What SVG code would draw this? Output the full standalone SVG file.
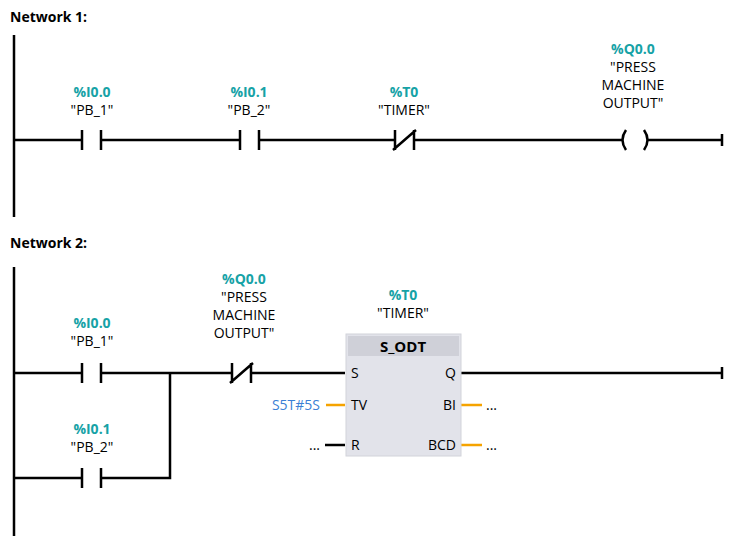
<svg xmlns="http://www.w3.org/2000/svg" width="733" height="536" viewBox="0 0 733 536">
<style>
text{font-family:"Open Sans","Noto Sans",sans-serif;font-size:14px;fill:#000}
.t{text-anchor:middle}
.a{fill:#16a2a6;font-weight:bold;text-anchor:middle}
.h{font-weight:bold}
.w{stroke:#000;stroke-width:2.5;fill:none}
.o{stroke:#f5a300;stroke-width:2.5}
.p{font-weight:bold;font-size:15px}
</style>
<rect width="733" height="536" fill="#fff"/>
<text x="10" y="22" class="h">Network 1:</text>
<text x="10" y="248" class="h">Network 2:</text>
<g id="connectors">
<path class="w" d="M14 35V217M14 140H82M101 140H240M259 140H395M414 140H622M648 140H722M722 134V146"/>
<path class="w" d="M14 267V536M14 373H82M101 373H232M251 373H345M461 373H722M722 367V379M14 478H82M101 478H170V373"/>
<line class="o" x1="326" y1="405" x2="345" y2="405"/>
<line class="w" x1="325" y1="445" x2="345" y2="445"/>
<line class="o" x1="461" y1="405" x2="482" y2="405"/>
<line class="o" x1="461" y1="445" x2="482" y2="445"/>
</g>
<g id="c1"><path class="w" d="M82 130V150M101 130V150"/><text x="92" y="97" class="a">%I0.0</text><text x="92" y="115" class="t">"PB_1"</text></g>
<g id="c2"><path class="w" d="M240 130V150M259 130V150"/><text x="249" y="97" class="a">%I0.1</text><text x="249" y="115" class="t">"PB_2"</text></g>
<g id="c3"><path class="w" d="M395 130V150M414 130V150M393 150L416 130"/><text x="404" y="97" class="a">%T0</text><text x="404" y="115" class="t">"TIMER"</text></g>
<g id="coil"><path class="w" d="M626 130Q619 140 626 150M644 130Q651 140 644 150"/><text x="633" y="54" class="a">%Q0.0</text><text x="633" y="72" class="t">"PRESS</text><text x="633" y="90" class="t">MACHINE</text><text x="633" y="108" class="t">OUTPUT"</text></g>
<g id="c4"><path class="w" d="M82 363V383M101 363V383"/><text x="92" y="328" class="a">%I0.0</text><text x="92" y="346" class="t">"PB_1"</text></g>
<g id="c5"><path class="w" d="M82 468V488M101 468V488"/><text x="92" y="434" class="a">%I0.1</text><text x="92" y="452" class="t">"PB_2"</text></g>
<g id="c6"><path class="w" d="M232 363V383M251 363V383M230 383L253 363"/><text x="244" y="284" class="a">%Q0.0</text><text x="244" y="302" class="t">"PRESS</text><text x="244" y="320" class="t">MACHINE</text><text x="244" y="338" class="t">OUTPUT"</text></g>
<g id="timer">
<text x="403" y="300" class="a">%T0</text><text x="403" y="318" class="t">"TIMER"</text>
<rect x="346" y="334" width="115" height="122" fill="#e2e3ea" stroke="#d2d3da"/>
<rect x="348" y="336" width="111" height="20" fill="#cfd0d8"/>
<text x="403" y="352" class="t p">S_ODT</text>
<text x="351" y="378">S</text><text x="351" y="410">TV</text><text x="351" y="450">R</text>
<text x="456" y="378" text-anchor="end">Q</text><text x="456" y="410" text-anchor="end">BI</text><text x="456" y="450" text-anchor="end">BCD</text>
<text x="320" y="410" text-anchor="end" style="fill:#3a7fd5">S5T#5S</text>
<text x="320" y="450" text-anchor="end">...</text>
<text x="486" y="410">...</text><text x="486" y="450">...</text>
</g>
</svg>
